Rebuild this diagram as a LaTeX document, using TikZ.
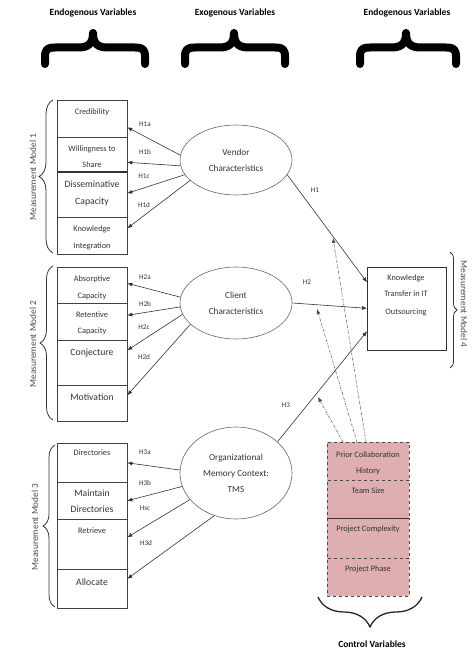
\documentclass[tikz,border=0pt]{standalone}
\usepackage{fontspec}
\setmainfont{Carlito}
\usetikzlibrary{shapes.geometric,calc,arrows.meta,decorations.pathreplacing}
\definecolor{ctlpink}{RGB}{222,174,176}
\newcommand{\TopBrace}[3]{%
  \draw[bigbrace] (#1,64) -- (#1,57) .. controls (#1,49.5) and ({#1+2},47.5) .. ({#1+10},47.5)
    -- ({#2-15},47.5) .. controls ({#2-5},47.5) and (#2,44) .. (#2,33)
    .. controls (#2,44) and ({#2+5},47.5) .. ({#2+15},47.5)
    -- ({#3-10},47.5) .. controls ({#3-2},47.5) and (#3,49.5) .. (#3,57) -- (#3,64);}
\begin{document}
\begin{tikzpicture}[x=1pt,y=-1pt,
  cell/.style={draw=black!75, line width=0.6pt, minimum width=70pt, inner sep=0pt, anchor=north},
  ctl/.style={fill=ctlpink, draw=black!70, dashed, line width=0.6pt, minimum width=82pt, inner sep=0pt, anchor=north},
  sm/.style={font=\fontsize{8.3}{9}\selectfont, text=black!80, inner sep=0pt},
  bg/.style={font=\fontsize{9.7}{11}\selectfont, text=black!80, inner sep=0pt},
  ell/.style={ellipse, draw=black!60, line width=0.6pt, inner sep=0pt, align=center,
              font=\fontsize{9.2}{16}\selectfont, text=black!80},
  arr/.style={-{Latex[length=5pt,width=4pt]}, draw=black!80, line width=0.6pt},
  dctl/.style={-{Latex[length=5pt,width=4pt]}, draw=black!70, line width=0.5pt,
               dash pattern=on 2.5pt off 1.2pt on 0.6pt off 1.2pt},
  hl/.style={font=\fontsize{7.2}{8}\selectfont, text=black!80, inner sep=0pt},
  mm/.style={font=\fontsize{9.3}{10}\selectfont, text=black!70, inner sep=0pt},
  head/.style={font=\bfseries\fontsize{9.5}{11}\selectfont, inner sep=0pt},
  bigbrace/.style={line width=8pt, line cap=round, line join=round},
  smallbrace/.style={decorate, decoration={brace, amplitude=#1}, draw=black!80, line width=0.8pt},
  smallbrace/.default=12pt]
\useasboundingbox (0,0) rectangle (474,660);

% headings and big braces
\node[head] (h1) at (93,13) {Endogenous Variables};
\node[head] (h2) at (235,13) {Exogenous Variables};
\node[head] (h3) at (407,13) {Endogenous Variables};
\TopBrace{45}{93}{145}
\TopBrace{185}{234}{285}
\TopBrace{360}{406}{456}

% column 1
\node[cell, minimum height=37pt] (c11) at (92,100) {};
\node[cell, minimum height=35pt] (c12) at (92,137) {};
\node[cell, minimum height=45pt] (c13) at (92,172) {};
\node[cell, minimum height=37pt] (c14) at (92,217) {};
\draw[line width=1.1pt, black!80] (c13.north west) -- (c13.north east);
\node[sm] (t11) at (92,112) {Credibility};
\node[sm] (t12a) at (92,149) {Willingness to};
\node[sm] (t12b) at (92,165) {Share};
\node[bg] (t13a) at (92,184) {Disseminative};
\node[bg] (t13b) at (92,202) {Capacity};
\node[sm] (t14a) at (92,229) {Knowledge};
\node[sm] (t14b) at (92,246) {Integration};

% column 2
\node[cell, minimum height=36pt] (c21) at (92,267) {};
\node[cell, minimum height=37pt] (c22) at (92,303) {};
\node[cell, minimum height=45pt] (c23) at (92,340) {};
\node[cell, minimum height=36pt] (c24) at (92,385) {};
\node[sm] (t21a) at (92,279) {Absorptive};
\node[sm] (t21b) at (92,296) {Capacity};
\node[sm] (t22a) at (92,315) {Retentive};
\node[sm] (t22b) at (92,331) {Capacity};
\node[bg] (t23) at (92,353) {Conjecture};
\node[bg] (t24) at (92,397) {Motivation};

% column 3
\node[cell, minimum height=39pt] (c31) at (92,443) {};
\node[cell, minimum height=37pt] (c32) at (92,482) {};
\node[cell, minimum height=50pt] (c33) at (92,519) {};
\node[cell, minimum height=39pt] (c34) at (92,569) {};
\node[sm] (t31) at (92,453) {Directories};
\node[bg] (t32a) at (92,493) {Maintain};
\node[bg] (t32b) at (92,509) {Directories};
\node[sm] (t33) at (92,531) {Retrieve};
\node[bg] (t34) at (92,582) {Allocate};

% measurement braces and labels
\draw[smallbrace=14pt] (53,253) -- (53,100);
\draw[smallbrace=13pt] (53,420) -- (53,266);
\draw[smallbrace=12pt] (55,607) -- (55,445);
\draw[smallbrace=7pt] (450,252) -- (450,368);
\node[mm, rotate=90] (m1) at (33,177) {Measurement Model 1};
\node[mm, rotate=90] (m2) at (33,344) {Measurement Model 2};
\node[mm, rotate=90] (m3) at (35,527) {Measurement Model 3};
\node[mm, rotate=-90] (m4) at (464,304) {Measurement Model 4};

% ellipses
\node[ell, minimum width=112pt, minimum height=70pt] (vendor) at (236,160) {Vendor\\Characteristics};
\node[ell, minimum width=112pt, minimum height=72pt] (client) at (236,303) {Client\\Characteristics};
\node[ell, minimum width=112pt, minimum height=92pt] (org) at (236,473) {Organizational\\Memory Context:\\TMS};

% knowledge transfer box
\node[draw=black!80, line width=0.6pt, minimum width=79pt, minimum height=83pt, inner sep=0pt, anchor=north west] (kt) at (367,267) {};
\node[sm] (k1) at (406,278) {Knowledge};
\node[sm] (k2) at (406,294) {Transfer in IT};
\node[sm] (k3) at (406,312) {Outsourcing};

% control variables
\node[ctl, minimum height=38pt] (cc1) at (368,442) {};
\node[ctl, minimum height=38pt] (cc2) at (368,480) {};
\node[ctl, minimum height=40pt] (cc3) at (368,518) {};
\node[ctl, minimum height=38pt] (cc4) at (368,558) {};
\draw[black!80, line width=0.8pt] (cc3.north west) -- (cc3.north east);
\node[sm] (p1a) at (368,455) {Prior Collaboration};
\node[sm] (p1b) at (368,471) {History};
\node[sm] (p2) at (368,491) {Team Size};
\node[sm] (p3) at (368,529) {Project Complexity};
\node[sm] (p4) at (368,569) {Project Phase};
\draw[decorate, decoration={brace, amplitude=30pt}, draw=black!85, line width=1.3pt] (422,597) -- (318,597);
\node[head] (cv) at (372,644) {Control Variables};

% H1 arrows
\draw[arr] (vendor.175) -- ($(c11.east)+(0,8.5)$);
\draw[arr] (vendor.186) -- ($(c12.east)+(0,7.5)$);
\draw[arr] (vendor.196) -- ($(c13.east)+(0,-1.5)$);
\draw[arr] (vendor.204) -- ($(c14.east)+(0,-7.5)$);
\node[hl] at (145,124) {H1a};
\node[hl] at (145,152) {H1b};
\node[hl] at (144,176) {H1c};
\node[hl] at (144,205) {H1d};

% H2 arrows
\draw[arr] (client.174) -- ($(c21.east)+(0,-2)$);
\draw[arr] (client.184) -- ($(c22.east)+(0,-6.5)$);
\draw[arr] (client.192) -- ($(c23.east)+(0,-12.5)$);
\draw[arr] (client.205) -- ($(c24.east)+(0,-8)$);
\node[hl] at (145,277) {H2a};
\node[hl] at (145,304) {H2b};
\node[hl] at (144,327) {H2c};
\node[hl] at (144,357) {H2d};

% H3 arrows
\draw[arr] (org.177) -- (c31.east);
\draw[arr] (org.194) -- (c32.east);
\draw[arr] (org.210) -- ($(c33.east)+(0,-7)$);
\draw[arr] (org.243) -- ($(c34.east)+(0,-10)$);
\node[hl] at (145,452) {H3a};
\node[hl] at (145,483) {H3b};
\node[hl] at (145,508) {Hsc};
\node[hl] at (146,543) {H3d};

% main paths
\draw[arr] (vendor.344) -- ($(kt.west)+(0,-26.5)$);
\draw[arr] (client.east) -- ($(kt.west)+(0,-0.5)$);
\draw[arr] (org.37) -- ($(kt.west)+(0,22.5)$);
\node[hl] at (315,190) {H1};
\node[hl] at (307,282) {H2};
\node[hl] at (286,405) {H3};

% control paths
\coordinate (t1) at (333,238);
\coordinate (t2) at (317,309);
\coordinate (t3) at (318,397);
\draw[dctl] ($(cc1.north)+(-2,0)$) -- (t1);
\draw[dctl] ($(cc1.north)+(-11,0)$) -- (t2);
\draw[dctl] ($(cc1.north)+(-25,0)$) -- (t3);
\end{tikzpicture}
\end{document}
